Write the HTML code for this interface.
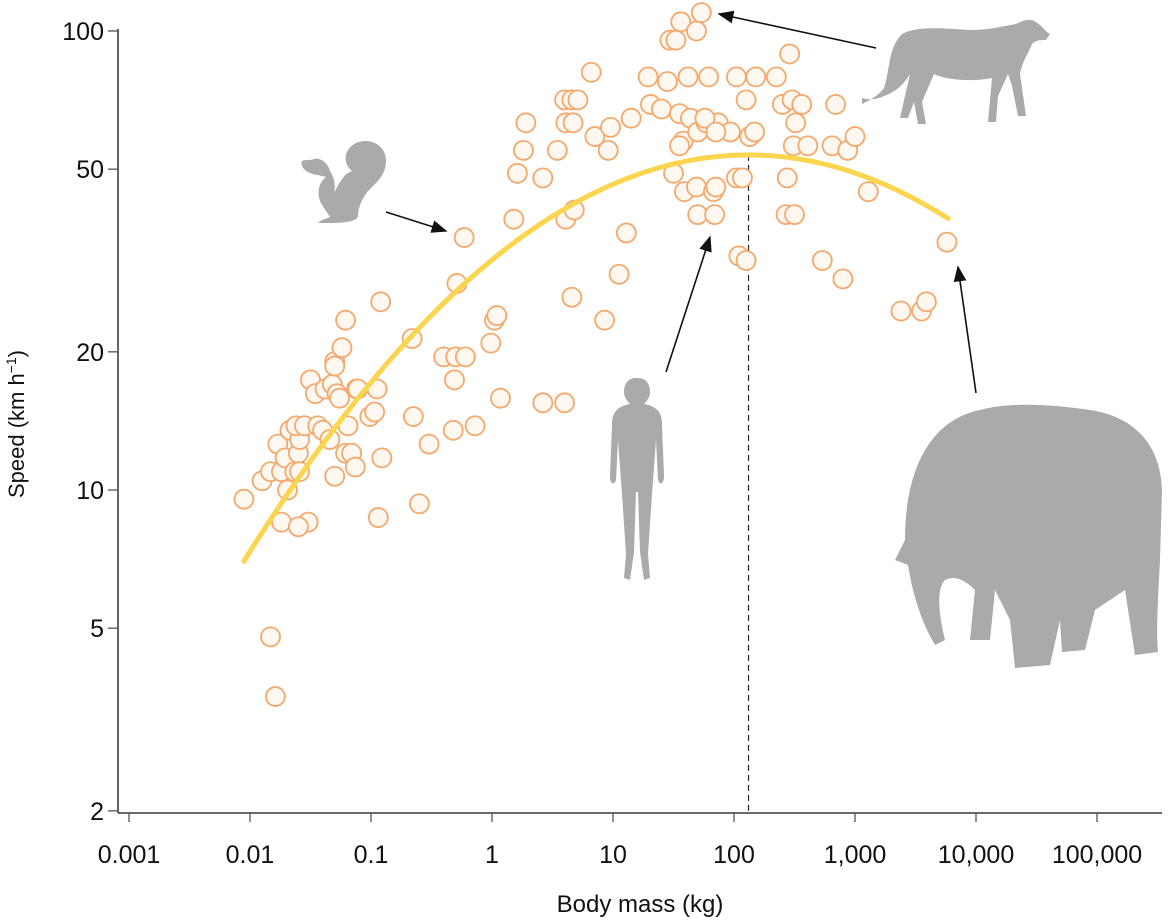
<!DOCTYPE html>
<html><head><meta charset="utf-8"><style>
html,body{margin:0;padding:0;background:#fff}
svg{display:block;font-family:"Liberation Sans",sans-serif}
</style></head><body>
<svg id="chart" width="1168" height="921" viewBox="0 0 1168 921">
<defs><marker id="ah" markerWidth="10" markerHeight="8" refX="9" refY="4" orient="auto"><path d="M0,0 L10,4 L0,8 z" fill="#111"/></marker></defs>
<g id="axes"></g>
<g id="curve"></g>
<g id="pts"></g>
<g fill="#aaaaaa">
 <path d="M322,205 c-6,-10 -4,-22 4,-28 c-6,-2 -12,-2 -16,-4 c-6,-2 -10,-8 -8,-12 c4,-2 8,0 12,-2 c6,-2 14,4 16,12 c4,6 6,14 4,22 c4,-8 10,-20 18,-22 c-10,-8 -8,-22 4,-28 c14,-6 30,2 30,18 c0,14 -10,22 -18,30 c-6,8 -10,16 -10,26 c-4,6 -20,6 -34,6 l-6,0 c4,-4 8,-4 12,-6 z"/>
 <path d="M862,104 c8,-4 16,-8 22,-16 c6,-18 4,-40 18,-54 c14,-8 40,-6 68,-4 c20,0 34,-4 46,-6 c8,-4 14,-6 20,-2 c6,4 10,10 14,12 l-4,6 c-6,0 -10,0 -14,4 c-4,10 -10,18 -12,30 l6,42 l-8,0 l-6,-30 l-4,-12 l-10,22 l-2,26 l-8,0 l4,-44 c-20,4 -46,2 -58,-4 l-12,28 l4,22 l-8,0 l-4,-22 l-6,16 l-8,0 l10,-44 c-6,10 -14,18 -26,22 c-8,4 -16,4 -22,2 z"/>
 <path d="M638,378 c8,0 12,6 12,14 c0,6 -4,10 -6,12 c12,2 18,8 18,20 l2,52 c0,8 -4,10 -6,4 l-2,-40 l-4,54 l-4,60 l2,24 l-6,2 l-4,-28 l-2,-60 l-2,0 l-2,60 l-4,28 l-6,-2 l2,-24 l-4,-60 l-4,-54 l-2,40 c-2,6 -6,4 -6,-4 l2,-52 c0,-12 6,-18 18,-20 c-2,-2 -6,-6 -6,-12 c0,-8 4,-14 12,-14 z"/>
 <path d="M905,540 C905,470 930,420 980,410 C1010,402 1050,404 1090,410 C1130,416 1160,440 1162,490 L1160,560 C1158,600 1156,630 1158,652 L1135,655 L1125,590 L1095,610 L1085,650 L1062,652 L1060,620 L1050,665 L1015,668 L1010,620 L995,590 L990,640 L970,640 L975,590 C965,580 955,575 945,580 C935,590 940,620 945,640 L935,645 C920,620 912,590 908,565 L895,560 z"/>
</g>
<g stroke="#111" stroke-width="1.6" fill="none">
 <line x1="386" y1="212" x2="446" y2="231" marker-end="url(#ah)"/>
 <line x1="876" y1="48" x2="719" y2="14" marker-end="url(#ah)"/>
 <line x1="666" y1="372" x2="710" y2="237" marker-end="url(#ah)"/>
 <line x1="976" y1="393" x2="958" y2="267" marker-end="url(#ah)"/>
</g>
<text transform="translate(24,424) rotate(-90)" text-anchor="middle" font-size="22" fill="#111">Speed (km h<tspan font-size="14" dy="-8">−1</tspan><tspan dy="8">)</tspan></text>
<text x="640" y="912" text-anchor="middle" font-size="24" fill="#111">Body mass (kg)</text>
</svg>
<script>
const xTickValues=[0.001,0.01,0.1,1,10,100,1000,10000,100000];
const xTickLabels=["0.001","0.01","0.1","1","10","100","1,000","10,000","100,000"];
const yTickValues=[2,5,10,20,50,100];
const yTickLabels=["2","5","10","20","50","100"];
// log10 body mass (kg)
const logMass=[-2.05,-1.90,-1.83,-1.77,-1.74,-1.71,-1.67,-1.63,-1.60,-1.59,-1.69,-1.62,-1.83,-1.79,-1.74,-1.52,-1.60,-1.59,-1.55,-1.50,-1.46,-1.44,-1.40,-1.38,-1.34,-1.32,-1.30,-1.28,-1.26,-1.24,-1.21,-1.21,-1.19,-1.16,-1.13,-1.12,-1.30,-1.30,-1.11,-1.01,-0.97,-0.95,-0.94,-0.91,-0.92,-0.66,-0.65,-0.60,-0.52,-0.40,-0.31,-0.30,-0.22,-0.32,-0.14,-0.01,0.02,0.04,0.07,-0.23,-0.29,0.18,0.21,0.28,0.26,0.42,0.54,0.60,0.61,0.66,0.61,0.68,0.71,0.67,0.66,0.42,0.60,0.93,1.05,1.11,0.82,0.85,0.96,0.98,1.15,1.29,1.31,1.40,1.47,1.52,1.56,1.62,1.69,1.73,1.45,1.55,1.58,1.64,1.70,1.77,1.87,1.97,1.50,1.55,1.59,1.69,1.70,1.83,1.84,1.76,1.79,1.85,2.02,2.02,2.07,2.04,2.10,2.10,2.13,2.18,2.17,2.35,2.40,2.43,2.44,2.46,2.48,2.51,2.56,2.50,2.49,2.61,2.73,2.84,2.81,2.94,3.00,2.90,3.11,3.38,3.55,3.59,3.76,1.85];
// log10 speed (km/h)
const logSpeed=[0.98,1.02,1.04,1.10,1.04,1.07,1.13,1.04,1.08,1.11,1.00,1.14,0.68,0.55,0.93,0.93,0.92,1.04,1.14,1.24,1.21,1.14,1.13,1.22,1.11,1.23,1.28,1.21,1.20,1.31,1.37,1.08,1.14,1.08,1.05,1.22,1.03,1.27,1.22,1.16,1.17,1.22,0.94,1.07,1.41,1.33,1.16,0.97,1.10,1.29,1.24,1.29,1.29,1.13,1.14,1.32,1.37,1.38,1.20,1.55,1.45,1.59,1.69,1.80,1.74,1.68,1.74,1.85,1.80,1.85,1.59,1.61,1.85,1.80,1.42,1.19,1.19,1.37,1.47,1.56,1.91,1.77,1.74,1.79,1.81,1.90,1.84,1.83,1.98,1.98,2.02,1.90,2.00,2.04,1.89,1.82,1.76,1.81,1.78,1.80,1.80,1.78,1.69,1.75,1.65,1.66,1.60,1.65,1.60,1.81,1.90,1.78,1.90,1.68,1.68,1.51,1.50,1.85,1.77,1.90,1.78,1.90,1.84,1.60,1.68,1.95,1.85,1.80,1.84,1.60,1.75,1.75,1.50,1.84,1.75,1.74,1.77,1.46,1.65,1.39,1.39,1.41,1.54,1.66];
// fitted curve: [peak log mass, peak log speed, curvature, start log mass, end log mass]
const curveParams=[2.12,1.73,-0.0509,-2.05,3.77];

const NS="http://www.w3.org/2000/svg";
const X0=129,XD=121,Y10=490,YD=459;
function xs(lm){return X0+(lm+3)*XD;}
function ys(ls){return Y10-(ls-1)*YD;}
function mk(tag,attrs,parent){const e=document.createElementNS(NS,tag);for(const k in attrs)e.setAttribute(k,attrs[k]);parent.appendChild(e);return e;}
const axes=document.getElementById('axes');
let a=mk('line',{x1:118,y1:29,x2:118,y2:813,stroke:'#111','stroke-width':1.3},axes);


a=mk('line',{x1:118,y1:813,x2:1162,y2:813,stroke:'#111','stroke-width':1.3},axes);


xTickValues.forEach((v,i)=>{const x=xs(Math.log10(v));
 const t=mk('line',{x1:x,y1:813,x2:x,y2:822,stroke:'#555','stroke-width':1.3},axes);
 
 
 const l=mk('text',{x:x,y:863,'text-anchor':'middle','font-size':25,fill:'#111'},axes);l.textContent=xTickLabels[i];
 
 });
yTickValues.forEach((v,i)=>{const y=ys(Math.log10(v));
 const t=mk('line',{x1:108,y1:y,x2:118,y2:y,stroke:'#555','stroke-width':1.3},axes);
 
 
 const l=mk('text',{x:104,y:y+9,'text-anchor':'end','font-size':25,fill:'#111'},axes);l.textContent=yTickLabels[i];
 
 });
const cg=document.getElementById('curve');
const [pm,ps,cv,s0,s1]=curveParams;
let d='';for(let k=0;k<=100;k++){const lm=s0+(s1-s0)*k/100;const ls=ps+cv*(lm-pm)*(lm-pm);d+=(k?'L':'M')+xs(lm).toFixed(1)+','+ys(ls).toFixed(1);}
const dash=mk('line',{x1:xs(pm),y1:ys(ps),x2:xs(pm),y2:813,stroke:'#222','stroke-width':1.2,'stroke-dasharray':'6,4'},cg);


const pts=document.getElementById('pts');
logMass.forEach((lm,i)=>{const c=mk('circle',{cx:xs(lm),cy:ys(logSpeed[i]),r:9.5,fill:'#fff8f0',stroke:'#f4a86c','stroke-width':1.8},pts);
 
 });
const path=mk('path',{d:d,fill:'none',stroke:'#fbd54e','stroke-width':5,'stroke-linecap':'round'},pts);


</script>
</body></html>
